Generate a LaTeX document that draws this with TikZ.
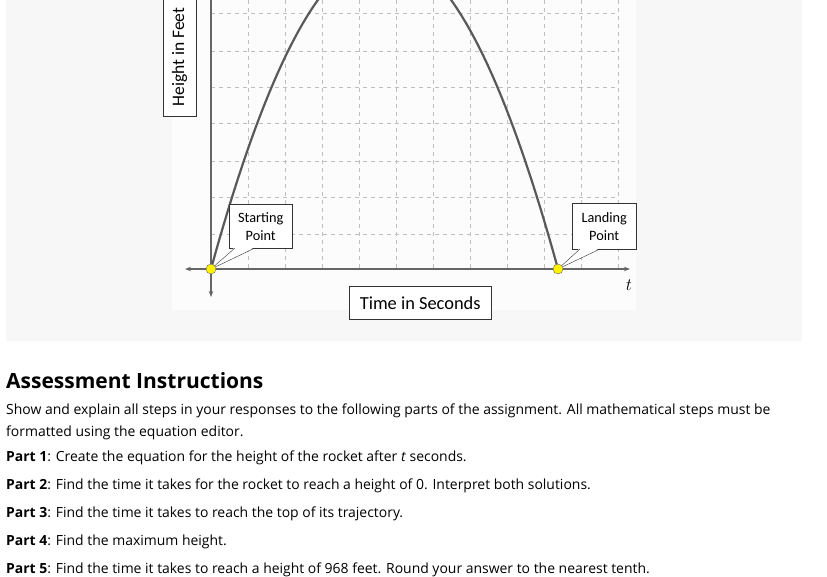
\documentclass[tikz,border=0pt]{standalone}
\usepackage{fontspec}
\setmainfont{Open Sans}
\newfontfamily\calib{Carlito}
\usetikzlibrary{arrows.meta}
\begin{document}
\begin{tikzpicture}[x=1pt,y=-1pt,
  lbl/.style={draw=black!80,fill=white,font=\calib\fontsize{13}{15}\selectfont,inner sep=0pt,align=center},
  call/.style={draw=black!80,fill=white,font=\calib\fontsize{14.3}{18}\selectfont,align=center,inner sep=0pt},
  grid/.style={black!25,dashed,dash pattern=on 4pt off 4pt},
  para/.style={font=\fontsize{13.95}{16}\selectfont,anchor=west,inner sep=0pt},
  dot/.style={circle,draw=black!60,fill=yellow,minimum size=10pt,inner sep=0pt}]
\useasboundingbox (0,0) rectangle (827,576);
\fill[black!3] (6,0) rectangle (802,341);
\fill[white!60!black!3] (172,0) rectangle (636,310);
\foreach \x in {248,285,322,359,396,433,470,507,544,581,618} \draw[grid] (\x,0) -- (\x,269);
\foreach \y in {13,51,87,123,161,197,234} \draw[grid] (211,\y) -- (618,\y);
\coordinate (O) at (211,269);
\coordinate (L) at (558,269);
\draw[black!60,line width=1.4pt,-{Stealth[length=6pt]}] (211,0) -- (211,297);
\draw[black!60,line width=1.4pt,{Stealth[length=6pt]}-{Stealth[length=6pt]}] (185,269) -- (630,269);
\node[font=\fontsize{16}{18}\selectfont] (t) at (629,285) {$t$};
\begin{scope}
\clip (172,0) rectangle (636,310);
\draw[black!65,line width=2.2pt,domain=211:558,samples=80] plot (\x,{269-0.01048*(\x-211)*(558-\x)});
\end{scope}
\node[lbl,minimum width=33pt,minimum height=117pt,anchor=north west] (hb) at (163,-1) {};
\node[rotate=90,font=\calib\fontsize{17.5}{19}\selectfont] (ht) at (179.5,57) {Height in Feet};
\node[call,minimum width=63pt,minimum height=44pt,anchor=north west] (sp) at (229,204) {Starting\\Point};
\node[call,minimum width=64pt,minimum height=46pt,anchor=north west] (lp) at (572,203) {Landing\\Point};
\fill[white] (235,247) -- (O) -- (255,247) -- cycle;
\draw[black!80,line width=0.4pt] (235,248) -- (O) -- (255,248);
\fill[white] (580,248) -- (L) -- (600,248) -- cycle;
\draw[black!80,line width=0.4pt] (580,249) -- (L) -- (600,249);
\node[dot] (d1) at (O) {};
\node[dot] (d2) at (L) {};
\node[lbl,minimum width=142pt,minimum height=33pt,anchor=north west,font=\calib\fontsize{18.4}{20}\selectfont] (ts) at (349,286) {Time in Seconds};
\node[para,font=\fontsize{21}{24}\selectfont\bfseries] (h) at (6,381) {Assessment Instructions};
\node[para] (p1) at (6,411) {Show and explain all steps in your responses to the following parts of the assignment. All mathematical steps must be};
\node[para] (p2) at (6,433) {formatted using the equation editor.};
\node[para] (p3) at (6,458) {\textbf{Part 1}: Create the equation for the height of the rocket after \textit{t} seconds.};
\node[para] (p4) at (6,486) {\textbf{Part 2}: Find the time it takes for the rocket to reach a height of 0. Interpret both solutions.};
\node[para] (p5) at (6,514) {\textbf{Part 3}: Find the time it takes to reach the top of its trajectory.};
\node[para] (p6) at (6,542) {\textbf{Part 4}: Find the maximum height.};
\node[para] (p7) at (6,570) {\textbf{Part 5}: Find the time it takes to reach a height of 968 feet. Round your answer to the nearest tenth.};
\end{tikzpicture}
\end{document}
